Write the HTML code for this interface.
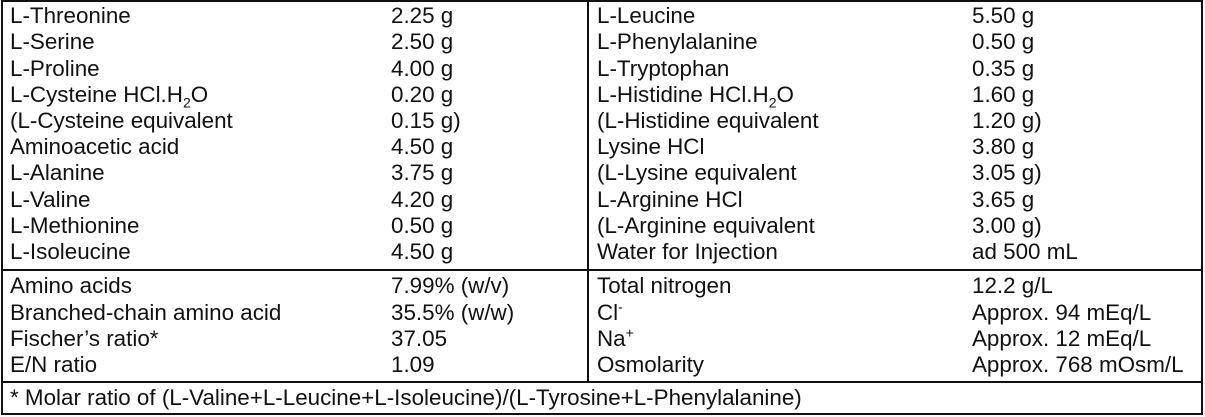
<!DOCTYPE html>
<html><head><style>
body{margin:0;width:1205px;height:417px;background:#fff;position:relative;overflow:hidden;font-family:"Liberation Sans",Arial,sans-serif;font-size:22.4px;color:#111}
.l{position:absolute;background:#111}
.t{position:absolute;line-height:26px;white-space:nowrap}
sub,sup{font-size:14px;line-height:0}
</style></head><body>
<div class="l" style="left:1px;top:0;width:1202px;height:2px"></div>
<div class="l" style="left:1px;top:269px;width:1202px;height:2px"></div>
<div class="l" style="left:1px;top:381px;width:1202px;height:2px"></div>
<div class="l" style="left:1px;top:413px;width:1202px;height:2px"></div>
<div class="l" style="left:1px;top:0;width:2px;height:415px"></div>
<div class="l" style="left:1201px;top:0;width:2px;height:415px"></div>
<div class="l" style="left:587px;top:0;width:2px;height:383px"></div>
<div id="c"></div>
<script>
var A=[["L-Threonine","2.25 g","L-Leucine","5.50 g"],["L-Serine","2.50 g","L-Phenylalanine","0.50 g"],["L-Proline","4.00 g","L-Tryptophan","0.35 g"],["L-Cysteine HCl.H<sub>2</sub>O","0.20 g","L-Histidine HCl.H<sub>2</sub>O","1.60 g"],["(L-Cysteine equivalent","0.15 g)","(L-Histidine equivalent","1.20 g)"],["Aminoacetic acid","4.50 g","Lysine HCl","3.80 g"],["L-Alanine","3.75 g","(L-Lysine equivalent","3.05 g)"],["L-Valine","4.20 g","L-Arginine HCl","3.65 g"],["L-Methionine","0.50 g","(L-Arginine equivalent","3.00 g)"],["L-Isoleucine","4.50 g","Water for Injection","ad 500 mL"]];
var B=[["Amino acids","7.99% (w/v)","Total nitrogen","12.2 g/L"],["Branched-chain amino acid","35.5% (w/w)","Cl<sup>-</sup>","Approx. 94 mEq/L"],["Fischer’s ratio*","37.05","Na<sup>+</sup>","Approx. 12 mEq/L"],["E/N ratio","1.09","Osmolarity","Approx. 768 mOsm/L"]];
var X=[10,391,597,972],h="";
function add(r,b){for(var j=0;j<4;j++)h+='<div class="t" style="left:'+X[j]+'px;top:'+(b-20.8)+'px">'+r[j]+'</div>';}
A.forEach(function(r,i){add(r,24+i*26.2)});
B.forEach(function(r,i){add(r,294+i*26.3)});
h+='<div class="t" style="left:10px;top:'+(406-20.8)+'px">* Molar ratio of (L-Valine+L-Leucine+L-Isoleucine)/(L-Tyrosine+L-Phenylalanine)</div>';
document.getElementById("c").innerHTML=h;
</script>
</body></html>
